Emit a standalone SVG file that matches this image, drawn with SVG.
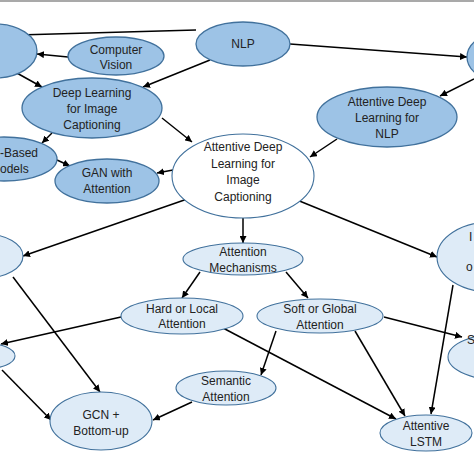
<svg xmlns="http://www.w3.org/2000/svg" width="474" height="474" viewBox="0 0 474 474">
<defs>
<style>
.dk{fill:#9DC3E6;stroke:#41719C;stroke-width:1.3}
.lt{fill:#DEEBF7;stroke:#41719C;stroke-width:1.1}
.wh{fill:#FFFFFF;stroke:#41719C;stroke-width:1.1}
text{font-family:"Liberation Sans",Arial,sans-serif;font-size:12px;fill:#222;text-anchor:middle}
.e line{stroke:#000;stroke-width:1.5;marker-end:url(#ah)}
</style>
<marker id="ah" markerWidth="8" markerHeight="7" refX="7" refY="3.5" orient="auto" markerUnits="userSpaceOnUse">
<path d="M0,0 L7,3.5 L0,7 Z" fill="#000"/>
</marker>
</defs>
<rect x="0" y="0" width="474" height="474" fill="#fff"/>
<rect x="0" y="0" width="474" height="2" fill="#A9A9A9"/>

<g class="e">
<line x1="196" y1="30" x2="18" y2="35"/>
<line x1="68" y1="57" x2="37" y2="54"/>
<line x1="15" y1="72" x2="42" y2="87"/>
<line x1="210" y1="60" x2="143" y2="87"/>
<line x1="290" y1="44" x2="467" y2="57"/>
<line x1="474" y1="79" x2="440" y2="96"/>
<line x1="337" y1="139" x2="310" y2="157"/>
<line x1="162" y1="118" x2="192" y2="142"/>
<line x1="52" y1="133" x2="42" y2="143"/>
<line x1="57" y1="160" x2="70" y2="166"/>
<line x1="173" y1="170" x2="157" y2="173"/>
<line x1="193" y1="197" x2="23" y2="256"/>
<line x1="243" y1="218" x2="243" y2="243"/>
<line x1="297" y1="200" x2="437" y2="257"/>
<line x1="200" y1="272" x2="182" y2="298"/>
<line x1="286" y1="272" x2="308" y2="298"/>
<line x1="121" y1="317" x2="1" y2="344"/>
<line x1="13" y1="277" x2="100" y2="392"/>
<line x1="2" y1="370" x2="51" y2="420"/>
<line x1="223" y1="328" x2="396" y2="419"/>
<line x1="276" y1="331" x2="261" y2="375"/>
<line x1="355" y1="331" x2="405" y2="416"/>
<line x1="453" y1="285" x2="431" y2="414"/>
<line x1="384" y1="317" x2="462" y2="337"/>
<line x1="192" y1="402" x2="153" y2="420"/>
</g>

<g id="n-topleft"><ellipse class="dk" cx="-5" cy="51" rx="42" ry="27"/></g>
<g id="n-cv"><ellipse class="dk" cx="116" cy="56" rx="48" ry="19"/><text x="116" y="54">Computer</text><text x="116" y="69">Vision</text></g>
<g id="n-nlp"><ellipse class="dk" cx="243" cy="44" rx="47" ry="22"/><text x="243" y="48">NLP</text></g>
<g id="n-topright"><ellipse class="dk" cx="506" cy="57" rx="39" ry="26"/></g>
<g id="n-dlic"><ellipse class="dk" cx="92" cy="108" rx="70" ry="30"/><text x="92" y="97">Deep Learning</text><text x="92" y="113">for Image</text><text x="92" y="129">Captioning</text></g>
<g id="n-adlnlp"><ellipse class="dk" cx="387" cy="117" rx="70" ry="30"/><text x="387" y="106">Attentive Deep</text><text x="387" y="122">Learning for</text><text x="387" y="138">NLP</text></g>
<g id="n-based"><ellipse class="dk" cx="4" cy="159" rx="53" ry="22"/><text x="0" y="157" style="text-anchor:start">-Based</text><text x="0" y="173" style="text-anchor:start">odels</text></g>
<g id="n-gan"><ellipse class="dk" cx="107" cy="181" rx="52" ry="22"/><text x="107" y="177">GAN with</text><text x="107" y="193">Attention</text></g>
<g id="n-central"><ellipse class="wh" cx="243" cy="176" rx="71" ry="42"/><text x="243" y="151">Attentive Deep</text><text x="243" y="167.5">Learning for</text><text x="243" y="184">Image</text><text x="243" y="200.5">Captioning</text></g>
<g id="n-leftmid"><ellipse class="lt" cx="-15" cy="256" rx="38" ry="22"/></g>
<g id="n-mech"><ellipse class="lt" cx="243" cy="259" rx="60" ry="16"/><text x="243" y="256">Attention</text><text x="243" y="272">Mechanisms</text></g>
<g id="n-right"><ellipse class="lt" cx="491" cy="257" rx="54" ry="35"/><text x="469" y="241" style="text-anchor:start">I</text><text x="466" y="271" style="text-anchor:start">o</text></g>
<g id="n-hard"><ellipse class="lt" cx="182" cy="316" rx="61" ry="18"/><text x="182" y="313">Hard or Local</text><text x="182" y="328">Attention</text></g>
<g id="n-soft"><ellipse class="lt" cx="320" cy="316" rx="63" ry="17"/><text x="320" y="313">Soft or Global</text><text x="320" y="329">Attention</text></g>
<g id="n-rightlow"><ellipse class="lt" cx="506" cy="357" rx="58" ry="24"/><text x="467" y="344" style="text-anchor:start">S</text></g>
<g id="n-leftlow"><ellipse class="lt" cx="-16" cy="356" rx="31" ry="13"/></g>
<g id="n-gcn"><ellipse class="lt" cx="101" cy="421" rx="51" ry="29"/><text x="101" y="419">GCN +</text><text x="101" y="435">Bottom-up</text></g>
<g id="n-sem"><ellipse class="lt" cx="226" cy="388" rx="50" ry="17"/><text x="226" y="385">Semantic</text><text x="226" y="401">Attention</text></g>
<g id="n-lstm"><ellipse class="lt" cx="426" cy="433" rx="46" ry="18"/><text x="426" y="430">Attentive</text><text x="426" y="446">LSTM</text></g>
</svg>
